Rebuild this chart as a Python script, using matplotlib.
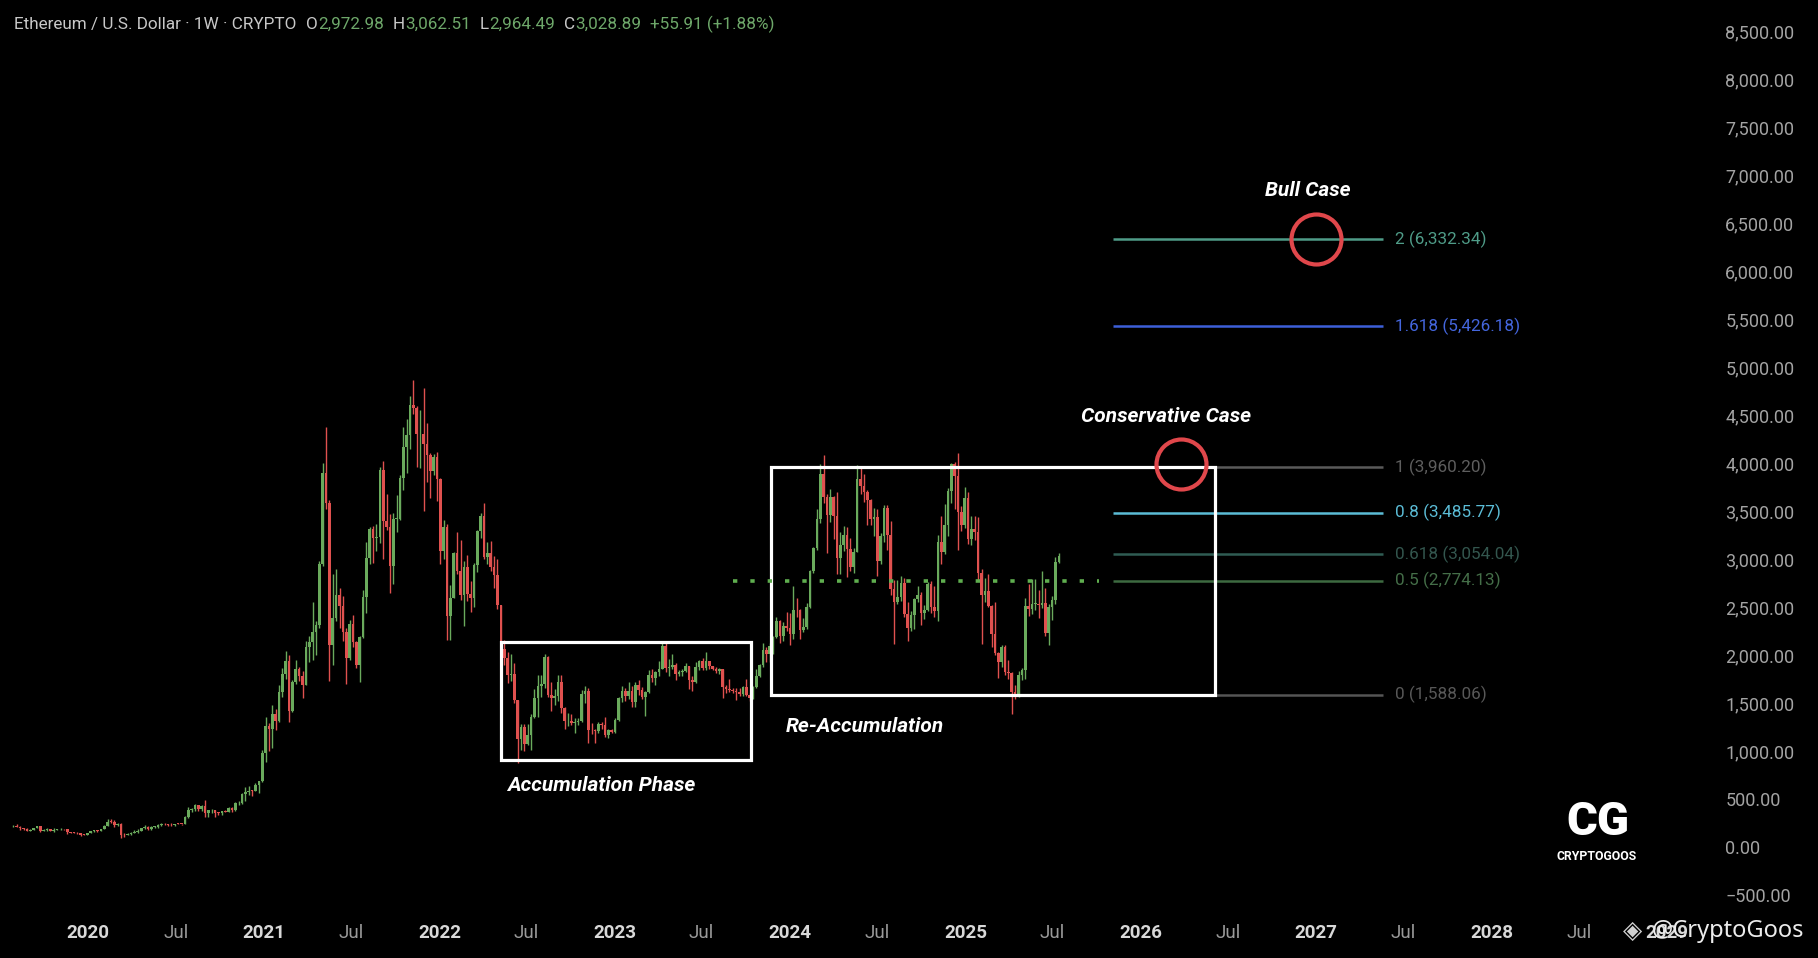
import matplotlib
matplotlib.use("Agg")
import matplotlib.pyplot as plt
import matplotlib.dates as mdates
from matplotlib.patches import Rectangle
import numpy as np
import pandas as pd

# weekly ETH candles, weeks starting Monday 2019-07-29 (open = previous close)
first_open = 216
closes = [
    222, 208, 195, 190, 172, 181, 197, 215, 169, 180, 193, 172, 182, 184, 187, 184, 152, 151, 148, 142, 128, 127, 144,
    166, 170, 167, 190, 223, 265, 262, 225, 236, 124, 122, 131, 143, 158, 171, 194, 210, 187, 206, 209, 231, 244, 235, 229, 225, 242,
    239, 238, 310, 390, 395, 433, 396, 428, 352, 381, 385, 354, 353, 375, 368, 407, 386, 454, 460, 550, 575, 587, 585, 650, 685, 975,
    1260, 1230, 1390, 1315, 1615, 1800, 1935, 1420, 1720, 1850, 1780, 1690, 2080, 2140, 2240, 2310, 2950, 3900, 3580, 2100, 2390, 2630,
    2510, 2240, 1970, 2320, 2140, 1895, 2190, 2610, 3010, 3310, 3225, 3230, 3930, 3400, 3330, 2930, 3420, 3420, 3850, 4170, 4290, 4610,
    4570, 4300, 4300, 4200, 4080, 3920, 4060, 3830,
    3080, 3330, 2410, 2600, 3060, 2880, 2630, 2920, 2640, 2590, 2940, 3290, 3450, 3020, 3060, 2920, 2830, 2520, 2060, 1970, 1790, 1800,
    1530, 1125, 1250, 1075, 1165, 1355, 1550, 1680, 1700, 1985, 1580, 1555, 1575, 1720, 1445, 1310, 1310, 1295, 1305, 1315, 1590, 1630,
    1220, 1215, 1205, 1280, 1275, 1165, 1220, 1200,
    1320, 1555, 1630, 1570, 1630, 1515, 1690, 1640, 1565, 1620, 1795, 1760, 1820, 1860, 2095, 1870, 1875, 1900, 1800, 1820, 1830, 1890,
    1740, 1720, 1875, 1935, 1865, 1935, 1890, 1860, 1830, 1850, 1670, 1650, 1635, 1630, 1620, 1590, 1670, 1580, 1555, 1670, 1780, 1895,
    2050, 2010, 2090, 2190, 2355, 2195, 2305, 2280,
    2215, 2475, 2465, 2265, 2290, 2500, 2880, 3115, 3420, 3890, 3650, 3455, 3645, 3450, 3010, 3150, 3255, 3110, 2915, 3070, 3830, 3765,
    3700, 3620, 3420, 3440, 2980, 3245, 3535, 3255, 2690, 2555, 2610, 2750, 2430, 2280, 2420, 2580, 2630, 2440, 2470, 2745, 2505, 2460,
    3180, 3075, 3355, 3705, 3995, 3870, 3495, 3355, 3635,
    3210, 3310, 3285, 2860, 2625, 2665, 2510, 2215, 2020, 1930, 2085, 1825, 1810, 1620, 1590, 1795, 1840, 2510, 2480, 2530, 2530, 2520,
    2540, 2235, 2500, 2570, 2972.98, 3028.89,
]
highs = [
    233, 239, 214, 199, 195, 184, 198, 223, 216, 183, 198, 193, 198, 190, 195, 191, 185, 156, 152, 152, 145, 135, 147,
    171, 180, 175, 190, 226, 290, 287, 277, 254, 251, 146, 141, 152, 175, 187, 199, 227, 215, 214, 215, 245, 253, 248, 238, 246, 244,
    249, 244, 323, 415, 405, 445, 441, 435, 488, 382, 395, 389, 366, 380, 389, 418, 413, 472, 479, 562, 622, 635, 598, 663, 686, 1010,
    1350, 1290, 1475, 1440, 1690, 1870, 2040, 2000, 1740, 1945, 1880, 1830, 2150, 2200, 2550, 2350, 2980, 4000, 4380, 3620, 2850, 2900,
    2700, 2620, 2280, 2370, 2420, 2150, 2200, 2680, 3180, 3330, 3340, 3370, 3960, 4020, 3680, 3470, 3480, 3670, 3880, 4380, 4460, 4700,
    4870, 4600, 4550, 4780, 4420, 4110, 4100, 4120,
    3850, 3410, 3370, 2730, 3070, 3280, 3200, 2980, 3040, 2770, 2960, 3300, 3480, 3580, 3180, 3190, 3030, 3000, 2520, 2160, 2030, 2010,
    1920, 1530, 1280, 1280, 1280, 1390, 1650, 1790, 1790, 2010, 1990, 1720, 1650, 1790, 1790, 1460, 1400, 1390, 1340, 1340, 1640, 1680,
    1660, 1290, 1230, 1300, 1300, 1350, 1230, 1230,
    1340, 1560, 1680, 1660, 1720, 1680, 1720, 1740, 1670, 1630, 1840, 1850, 1830, 1940, 2140, 2125, 1960, 2010, 1920, 1840, 1860, 1920,
    1890, 1780, 1930, 1950, 1970, 2030, 1940, 1890, 1880, 1870, 1860, 1690, 1750, 1660, 1660, 1660, 1680, 1750, 1600, 1680, 1860, 1910,
    2130, 2080, 2130, 2200, 2400, 2370, 2340, 2445,
    2440, 2715, 2600, 2480, 2390, 2540, 2890, 3130, 3520, 3990, 4090, 3680, 3730, 3660, 3700, 3280, 3350, 3330, 3220, 3120, 3980, 3970,
    3890, 3720, 3630, 3530, 3520, 3270, 3560, 3560, 3400, 2780, 2780, 2820, 2800, 2550, 2460, 2590, 2720, 2660, 2520, 2760, 2770, 2720,
    3250, 3450, 3570, 3740, 4000, 4010, 4110, 3550, 3750,
    3700, 3450, 3450, 3440, 2900, 2800, 2850, 2520, 2550, 2030, 2100, 2100, 1950, 1820, 1690, 1830, 1870, 2600, 2740, 2790, 2790, 2680,
    2880, 2700, 2530, 2620, 3020, 3062.51,
]
lows = [
    207, 206, 175, 180, 165, 168, 175, 195, 154, 167, 172, 168, 157, 176, 180, 180, 140, 142, 144, 140, 117, 125, 125,
    141, 160, 155, 166, 186, 220, 250, 212, 218, 90, 107, 124, 128, 142, 149, 168, 186, 175, 182, 194, 197, 223, 225, 224, 218, 222,
    235, 230, 236, 305, 370, 375, 376, 375, 310, 317, 357, 308, 336, 333, 360, 360, 370, 380, 441, 453, 480, 540, 532, 580, 560, 680,
    890, 1000, 1035, 1220, 1300, 1560, 1750, 1300, 1410, 1700, 1730, 1550, 1690, 1930, 1950, 2000, 2280, 2930, 3520, 1730, 1900, 2350,
    2280, 2150, 1700, 1950, 2080, 1870, 1720, 2180, 2440, 2950, 2960, 3080, 3170, 3000, 3300, 2650, 2740, 3280, 3410, 3720, 3900, 4150,
    4510, 3960, 3950, 3500, 3800, 3640, 3880, 3610,
    2950, 3000, 2160, 2160, 2590, 2850, 2570, 2300, 2560, 2450, 2500, 2870, 3220, 3000, 2950, 2880, 2700, 2480, 1700, 1900, 1710, 1730,
    1500, 880, 1010, 1000, 1060, 1010, 1340, 1350, 1560, 1660, 1560, 1420, 1480, 1520, 1400, 1225, 1260, 1270, 1190, 1270, 1300, 1500,
    1080, 1180, 1080, 1190, 1230, 1150, 1140, 1190,
    1190, 1310, 1510, 1520, 1540, 1460, 1460, 1580, 1540, 1370, 1600, 1720, 1690, 1780, 1850, 1820, 1780, 1860, 1740, 1780, 1780, 1820,
    1650, 1630, 1710, 1840, 1840, 1840, 1860, 1840, 1810, 1800, 1550, 1610, 1620, 1600, 1530, 1570, 1570, 1570, 1520, 1540, 1660, 1770,
    1880, 1930, 1930, 2010, 2180, 2130, 2150, 2250,
    2100, 2170, 2400, 2170, 2240, 2270, 2490, 2860, 3100, 3380, 3580, 3060, 3390, 3210, 2850, 2850, 3080, 2810, 2880, 2860, 3070, 3680,
    3600, 3360, 3360, 3240, 2820, 2950, 3180, 3090, 2630, 2120, 2530, 2560, 2400, 2150, 2250, 2270, 2550, 2310, 2380, 2460, 2440, 2400,
    2360, 2950, 3050, 3240, 3580, 3520, 3100, 3290, 3320,
    3160, 3150, 3200, 2780, 2120, 2550, 2500, 2080, 2000, 1760, 1880, 1790, 1750, 1390, 1540, 1560, 1740, 1750, 2410, 2430, 2470, 2390,
    2490, 2200, 2110, 2370, 2530, 2964.49,
]

fib_ratios = ["2", "1.618", "1", "0.8", "0.618", "0.5", "0"]
fib_levels = [6332.34, 5426.18, 3960.20, 3485.77, 3054.04, 2774.13, 1588.06]
fib_colors = ["#4f9c88", "#3d5fd8", "#5a5a5a", "#5bbcd6", "#2f5c53", "#3d6a40", "#555555"]
fib_text_colors = ["#4f9c88", "#4466dd", "#5e5e5e", "#5bbcd6", "#33564e", "#446e48", "#585858"]

price_ticks = list(range(-500, 9000, 500))
years = list(range(2020, 2030))

plt.rcParams["font.family"] = ["Roboto", "DejaVu Sans"]

W, H = 1818, 958
fig = plt.figure(figsize=(W / 100, H / 100), dpi=100, facecolor="black")
ax = fig.add_axes([0, 1 - 912 / H, 1710 / W, 912 / H])
ax.set_facecolor("black")

dates = pd.date_range("2019-07-29", periods=len(closes), freq="W-MON")
x = mdates.date2num(dates)
c = np.array(closes, dtype=float)
o = np.array([first_open] + closes[:-1], dtype=float)
hi = np.array(highs, dtype=float)
lo = np.array(lows, dtype=float)
up = c >= o
cols = np.where(up, "#6aaa5c", "#e0514f")

ax.vlines(x, lo, hi, colors=cols, lw=1.0)
ax.bar(x, np.maximum(np.abs(c - o), 8), bottom=np.minimum(o, c), width=5.5, color=cols, linewidth=0)

d = lambda s: mdates.date2num(pd.Timestamp(s))

# boxes
ax.add_patch(Rectangle((d("2022-05-10"), 910), d("2023-10-12") - d("2022-05-10"), 2140 - 910,
                       fill=False, ec="white", lw=2.3, zorder=4))
ax.add_patch(Rectangle((d("2023-11-22"), fib_levels[-1]), d("2026-06-05") - d("2023-11-22"),
                       fib_levels[2] - fib_levels[-1], fill=False, ec="white", lw=2.3, zorder=4))

# dotted mid line
ax.hlines(fib_levels[5], d("2023-09-05"), d("2025-10-05"), colors="#5fae4f", lw=2.6,
          linestyles=(0, (1.2, 3.6)), zorder=5)

# fib levels
for r, lv, lc, tc in zip(fib_ratios, fib_levels, fib_colors, fib_text_colors):
    ax.hlines(lv, d("2025-11-04"), d("2027-05-20"), colors=lc, lw=1.8, zorder=3)
    ax.text(d("2027-06-14"), lv, f"{r} ({lv:,.2f})", color=tc, fontsize=12.3, va="center", ha="left")

# target circles
ax.plot([d("2027-01-01")], [fib_levels[0]], marker="o", ms=36, mfc="none", mec="#e0474b", mew=3, zorder=6)
ax.plot([d("2026-03-25")], [3990], marker="o", ms=36, mfc="none", mec="#e0474b", mew=3, zorder=6)

lab = dict(color="white", fontsize=15, fontweight="bold", fontstyle="italic", ha="center", va="center")
ax.text(d("2026-12-15"), 6846, "Bull Case", **lab)
ax.text(d("2026-02-22"), 4491, "Conservative Case", **lab)
ax.text(d("2024-06-05"), 1261, "Re-Accumulation", **lab)
ax.text(d("2022-12-05"), 646, "Accumulation Phase", **lab)

ax.set_xlim(d("2019-07-01"), d("2029-03-31"))
ax.set_ylim(-677, 8826)

# axes styling
for s in ax.spines.values():
    s.set_visible(False)
xt, xl = [], []
for y in years:
    xt.append(d(f"{y}-01-01"))
    xl.append(str(y))
    if y < 2029:
        xt.append(d(f"{y}-07-01"))
        xl.append("Jul")
ax.set_xticks(xt)
ax.set_xticklabels(xl)
for t in ax.get_xticklabels():
    if t.get_text() == "Jul":
        t.set_color("#9a9a9a")
    else:
        t.set_color("#d8d8d8")
        t.set_fontweight("bold")
ax.tick_params(axis="x", length=0, pad=9, labelsize=13.5)

ax.yaxis.tick_right()
ax.set_yticks(price_ticks)
ax.set_yticklabels([f"{v:,.2f}".replace("-", "\u2212") for v in price_ticks])
ax.tick_params(axis="y", length=0, pad=11, labelsize=13, labelcolor="#a3a3a3")

# header line
renderer = fig.canvas.get_renderer()
green = "#6ea86a"
grey = "#c8c8c8"
prev_c = closes[-2]
chg = closes[-1] - prev_c
pieces = [
    ("Ethereum / U.S. Dollar \u00b7 1W \u00b7 CRYPTO", grey, 0),
    ("O", grey, 10), (f"{o[-1]:,.2f}", green, 0),
    ("H", grey, 9), (f"{highs[-1]:,.2f}", green, 0),
    ("L", grey, 9), (f"{lows[-1]:,.2f}", green, 0),
    ("C", grey, 9), (f"{closes[-1]:,.2f}", green, 0),
    (f"+{chg:,.2f} (+{chg / prev_c * 100:.2f}%)", green, 9),
]
xpos = 14
for s, col, gap in pieces:
    xpos += gap
    t = fig.text(xpos / W, 1 - 29 / H, s, color=col, fontsize=12.3, va="baseline", ha="left")
    xpos = t.get_window_extent(renderer).x1

# logo and watermark
fig.text(1598 / W, 1 - 822 / H, "CG", color="white", fontsize=34, fontweight="heavy", ha="center", va="center")
fig.text(1597 / W, 1 - 857 / H, "CRYPTOGOOS", color="white", fontsize=8.8, fontweight="bold", ha="center", va="center")
fig.text(1633 / W, 1 - 931 / H, "\u25c8", color="#d0d0d0", fontsize=18, ha="center", va="center", family="DejaVu Sans")
fig.text(1652 / W, 1 - 931 / H, "@CryptoGoos", color="#ececec", fontsize=17, ha="left", va="center", family="Noto Sans")

fig.savefig("out.png", dpi=100, facecolor="black")
